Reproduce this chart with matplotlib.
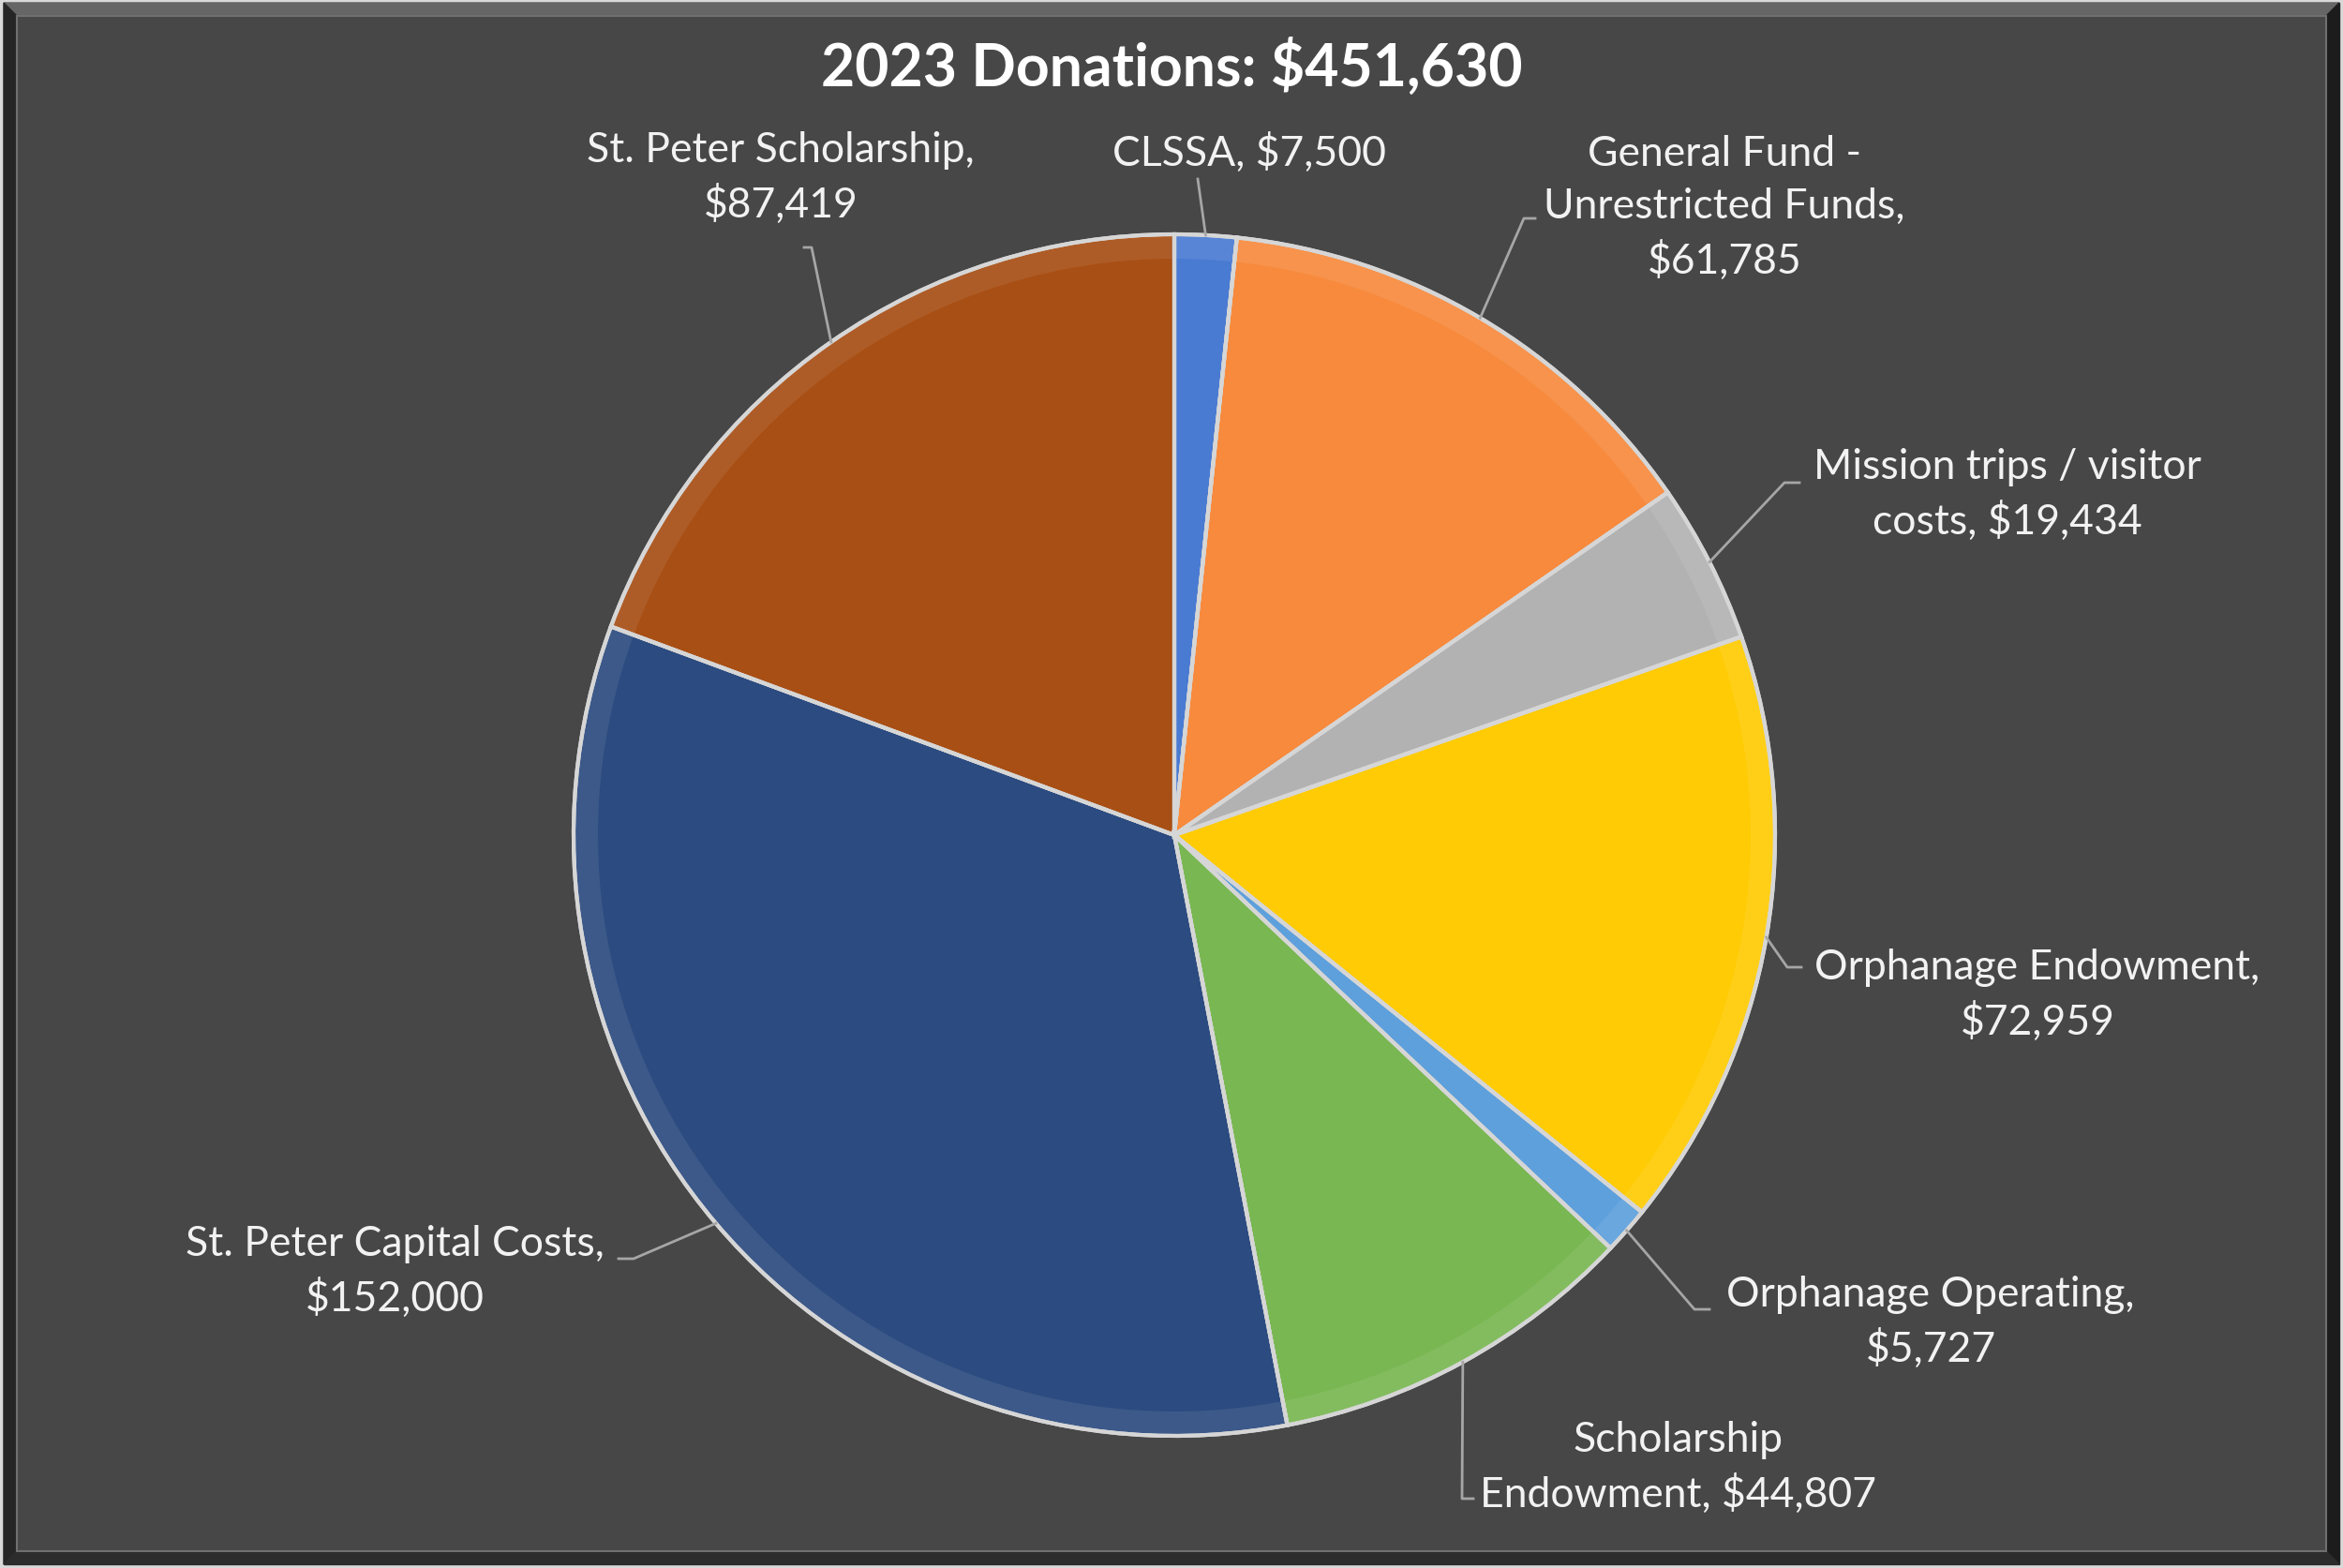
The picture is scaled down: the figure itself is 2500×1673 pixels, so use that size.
import numpy as np
import matplotlib
matplotlib.use("Agg")
import matplotlib.pyplot as plt
from matplotlib.patches import Rectangle, Polygon, Wedge

plt.rcParams['font.family'] = ['Lato', 'DejaVu Sans']

# data
categories = ["CLSSA", "General Fund -\nUnrestricted Funds", "Mission trips / visitor\ncosts",
              "Orphanage Endowment", "Orphanage Operating", "Scholarship\nEndowment",
              "St. Peter Capital Costs", "St. Peter Scholarship"]
amounts = [7500, 61785, 19434, 72959, 5727, 44807, 152000, 87419]
colors = ["#4A7BD2", "#F78A3D", "#B2B2B2", "#FFCB05", "#5EA0DC", "#79B752", "#2C4B80", "#A84F15"]
label_texts = ["CLSSA, $7,500", "General Fund -\nUnrestricted Funds,\n$61,785",
               "Mission trips / visitor\ncosts, $19,434", "Orphanage Endowment,\n$72,959",
               "Orphanage Operating,\n$5,727", "Scholarship\nEndowment, $44,807",
               "St. Peter Capital Costs,\n$152,000", "St. Peter Scholarship,\n$87,419"]
title = "2023 Donations: $451,630"

W, H = 2500, 1674
def Y(y):
    return H - y

# layout (pixel coords, y downward): label centre, elbow, line end
label_pos = [(1333, 163), (1840, 222), (2142, 528), (2174, 1062),
             (2060, 1411), (1790, 1566), (421, 1357), (833, 190)]
elbows = [(1278, 192), (1626, 234), (1904, 516), (1907, 1033),
          (1808, 1398), (1560, 1600), (676, 1344), (866, 265)]
ends = [(1278, 192), (1638, 234), (1920, 516), (1922, 1033),
        (1824, 1398), (1572, 1600), (660, 1344), (858, 265)]

cx, cy, R = 1253, 892, 641

fig = plt.figure(figsize=(25, 16.74), dpi=100)
fig.patch.set_facecolor('#474747')
ax = fig.add_axes([0, 0, 1, 1])
ax.set_facecolor('#474747')

# frame with bevel
ax.add_patch(Rectangle((0, 0), W, H, color='#d9d9d9', zorder=0))
ax.add_patch(Rectangle((4, 4), W - 8, H - 8, color='#2a2a2a', zorder=0.1))
t = 18
ax.add_patch(Polygon([(4, H - 4), (W - 4, H - 4), (W - t, H - t), (t, H - t)], color='#666666', zorder=0.2))
ax.add_patch(Polygon([(4, 4), (t, t), (t, H - t), (4, H - 4)], color='#262626', zorder=0.2))
ax.add_patch(Polygon([(W - 4, 4), (W - 4, H - 4), (W - t, H - t), (W - t, t)], color='#1c1c1c', zorder=0.2))
ax.add_patch(Polygon([(4, 4), (W - 4, 4), (W - t, t), (t, t)], color='#2c2c2c', zorder=0.2))
ax.add_patch(Rectangle((t, t), W - 2 * t, H - 2 * t, facecolor='#474747',
                       edgecolor='#707070', linewidth=1.5, zorder=0.3))

wedges, _ = ax.pie(amounts, colors=colors, startangle=90, counterclock=False,
                   center=(cx, Y(cy)), radius=R,
                   wedgeprops=dict(edgecolor='#d6d6d6', linewidth=3))

# bevel highlight along the rim
for w in wedges:
    ax.add_patch(Wedge(w.center, w.r, w.theta1, w.theta2, width=26,
                       facecolor='white', alpha=0.08, edgecolor='none', zorder=w.get_zorder() + 0.1))
    ax.add_patch(Wedge(w.center, w.r, w.theta1, w.theta2, facecolor='none',
                       edgecolor='#d6d6d6', linewidth=3, zorder=w.get_zorder() + 0.2))

# leader lines + labels
for w, txt, lp, el, en in zip(wedges, label_texts, label_pos, elbows, ends):
    mid = np.deg2rad((w.theta1 + w.theta2) / 2)
    ax_x = cx + R * np.cos(mid)
    ax_y = Y(cy) + R * np.sin(mid)
    ax.plot([ax_x, el[0], en[0]], [ax_y, Y(el[1]), Y(en[1])], color='#a6a6a6', lw=2, zorder=5)
    ax.text(lp[0], Y(lp[1]), txt, ha='center', va='center', color='#f2f2f2',
            fontsize=32, linespacing=1.45, zorder=6)

ax.text(W / 2, Y(72), title, ha='center', va='center', color='white',
        fontsize=45, fontweight='bold', zorder=6)

ax.set_xlim(0, W)
ax.set_ylim(0, H)
ax.set_aspect('equal')
ax.axis('off')

fig.savefig('out.png', dpi=100, facecolor=fig.get_facecolor())
